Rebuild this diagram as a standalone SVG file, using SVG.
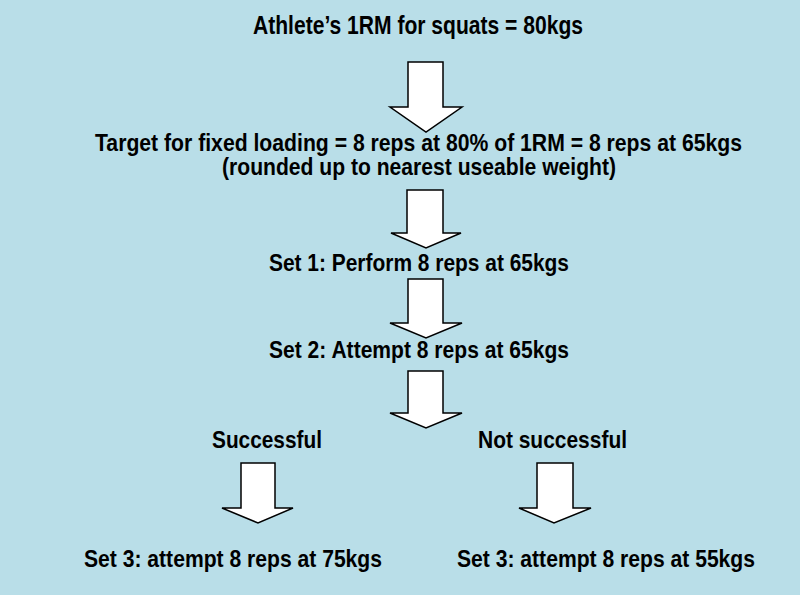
<svg xmlns="http://www.w3.org/2000/svg" width="800" height="595" viewBox="0 0 800 595">
<style>
.t{font-family:"Liberation Sans",Arial,sans-serif;font-weight:bold;font-size:24px;fill:#000}
.a{fill:#fff;stroke:#000;stroke-width:1.5;stroke-linejoin:miter}
</style>
<rect width="800" height="595" fill="#B9DEE8"/>
<g id="connectors">
<polygon class="a" points="408,62 443,62 443,107 462,107 426,132 390,107 408,107"/>
<polygon class="a" points="407,190 443,190 443,233 461,233 426,248 391,233 407,233"/>
<polygon class="a" points="408,279 443,279 443,323 462,323 426,338 390,323 408,323"/>
<polygon class="a" points="408,371 443,371 443,413 462,413 426,428 390,413 408,413"/>
<polygon class="a" points="241,463 275,463 275,508 293,508 258,523 222,508 241,508"/>
<polygon class="a" points="537,463 573,463 573,508 591,508 554,523 519,508 537,508"/>
</g>
<g id="n1"><text class="t" x="253" y="34" font-size="25" style="font-size:25px" textLength="330" lengthAdjust="spacingAndGlyphs">Athlete’s 1RM for squats = 80kgs</text></g>
<g id="n2">
<text class="t" x="95" y="151" textLength="647" lengthAdjust="spacingAndGlyphs">Target for fixed loading = 8 reps at 80% of 1RM = 8 reps at 65kgs</text>
<text class="t" x="222" y="175" textLength="394" lengthAdjust="spacingAndGlyphs">(rounded up to nearest useable weight)</text>
</g>
<g id="n3"><text class="t" x="269" y="271" textLength="300" lengthAdjust="spacingAndGlyphs">Set 1: Perform 8 reps at 65kgs</text></g>
<g id="n4"><text class="t" x="269" y="358" textLength="300" lengthAdjust="spacingAndGlyphs">Set 2: Attempt 8 reps at 65kgs</text></g>
<g id="n5"><text class="t" x="212" y="448" textLength="110" lengthAdjust="spacingAndGlyphs">Successful</text></g>
<g id="n6"><text class="t" x="478" y="448" textLength="149" lengthAdjust="spacingAndGlyphs">Not successful</text></g>
<g id="n7"><text class="t" x="84" y="567" textLength="298" lengthAdjust="spacingAndGlyphs">Set 3: attempt 8 reps at 75kgs</text></g>
<g id="n8"><text class="t" x="457" y="567" textLength="298" lengthAdjust="spacingAndGlyphs">Set 3: attempt 8 reps at 55kgs</text></g>
</svg>
